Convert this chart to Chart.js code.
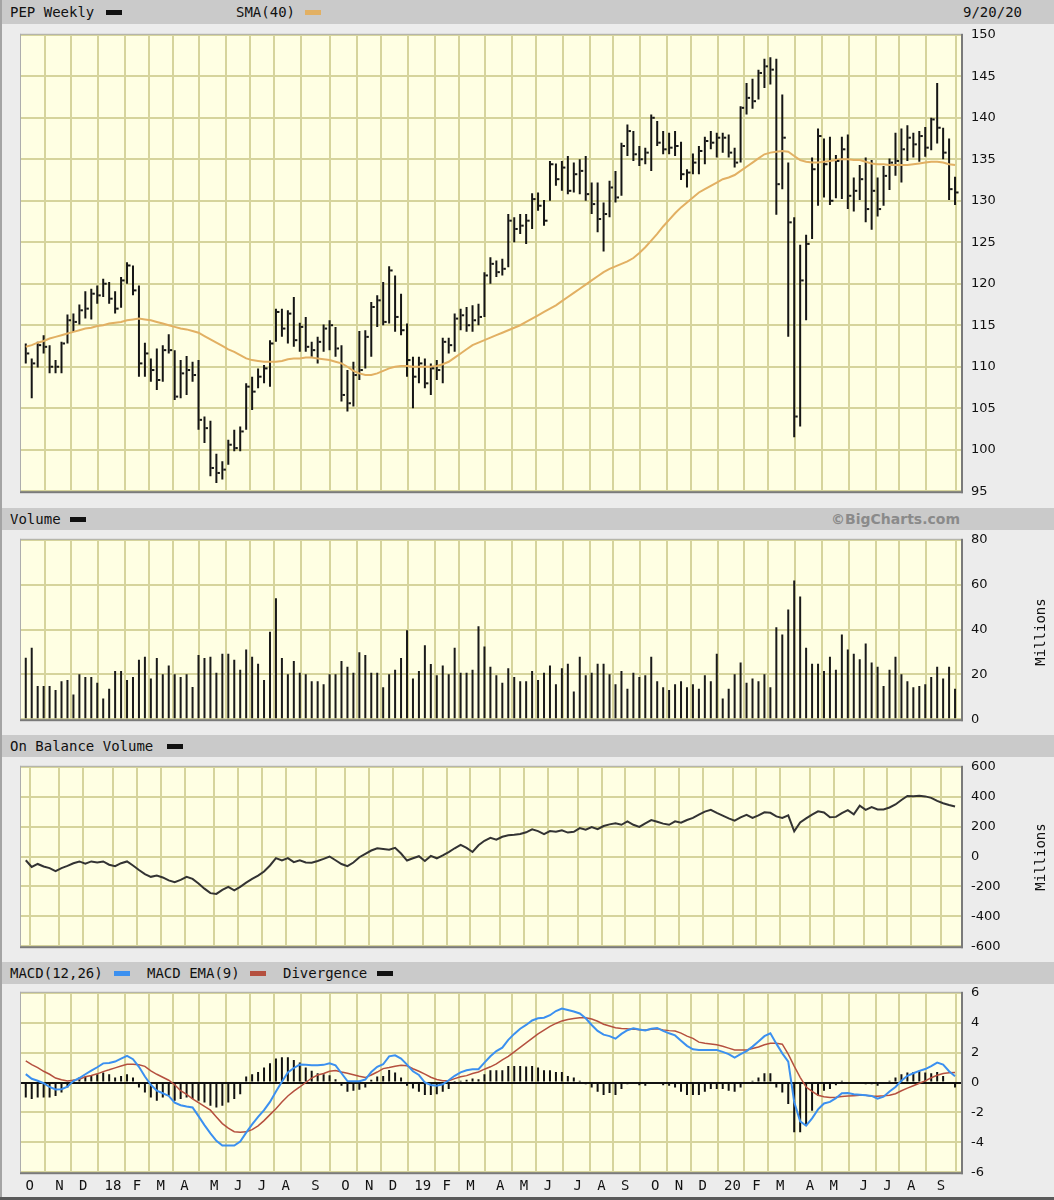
<!DOCTYPE html>
<html>
<head>
<meta charset="utf-8">
<title>PEP Weekly</title>
<script src="https://cdn.jsdelivr.net/npm/chart.js@4.4.1/dist/chart.umd.min.js"></script>
<style>
  body { margin: 0; background: #ececec; }
  #page { position: relative; width: 1054px; height: 1200px; background: #ececec; overflow: hidden;
          font-family: "DejaVu Sans Mono", monospace; font-size: 14px; color: #111; }
  .band { position: absolute; left: 0; width: 1054px; background: #cacaca; }
  .lbl { position: absolute; white-space: nowrap; line-height: 16px; }
  .sw { position: absolute; height: 5px; width: 16px; }
  .panel { position: absolute; left: 0; width: 1054px; }
  .mil { position: absolute; width: 90px; height: 16px; line-height: 16px; text-align: center;
         transform: rotate(-90deg); }
</style>
</head>
<body>
<div id="page">
  <div class="band" style="top:0;height:24px"></div>
  <div class="lbl" style="left:10px;top:4px">PEP Weekly</div>
  <div class="sw" style="left:106px;top:10px;background:#111"></div>
  <div class="lbl" style="left:236px;top:4px">SMA(40)</div>
  <div class="sw" style="left:305px;top:10px;background:#e2b063"></div>
  <div class="lbl" style="right:32px;top:4px">9/20/20</div>

  <div class="band" style="top:508px;height:22px"></div>
  <div class="lbl" style="left:10px;top:511px">Volume</div>
  <div class="sw" style="left:70px;top:517px;background:#111"></div>
  <div class="lbl" style="right:94px;top:511px;font-family:'DejaVu Sans';font-weight:bold;color:#8a8a8a">©BigCharts.com</div>

  <div class="band" style="top:735px;height:22px"></div>
  <div class="lbl" style="left:10px;top:738px">On Balance Volume</div>
  <div class="sw" style="left:167px;top:744px;background:#111"></div>

  <div class="band" style="top:962px;height:22px"></div>
  <div class="lbl" style="left:10px;top:965px">MACD(12,26)</div>
  <div class="sw" style="left:114px;top:971px;background:#3b90f0"></div>
  <div class="lbl" style="left:147px;top:965px">MACD EMA(9)</div>
  <div class="sw" style="left:250px;top:971px;background:#b5503f"></div>
  <div class="lbl" style="left:283px;top:965px">Divergence</div>
  <div class="sw" style="left:377px;top:971px;background:#111"></div>

  <div class="panel" id="pricePanel"><canvas></canvas></div>
  <div class="panel" id="volPanel"><canvas></canvas></div>
  <div class="panel" id="obvPanel"><canvas></canvas></div>
  <div class="panel" id="macdPanel"><canvas></canvas></div>

  <div class="mil" style="left:995px;top:624px">Millions</div>
  <div class="mil" style="left:995px;top:849px">Millions</div>

  <div style="position:absolute;left:0;top:0;width:2px;height:1200px;background:#a4a4a4"></div>
  <div style="position:absolute;left:0;top:1197px;width:1054px;height:3px;background:#5a5a5a"></div>
</div>
<script>
// month gridlines: first weekly bar (0-based) of each month, and its label
const monthLabels = ['O','N','D','18','F','M','A','M','J','J','A','S',
                     'O','N','D','19','F','M','A','M','J','J','A','S',
                     'O','N','D','20','F','M','A','M','J','J','A','S'];
const monthStartWeek = [1,6,10,15,19,23,27,32,36,40,44,49,
                        54,58,62,67,71,75,80,84,88,93,97,101,
                        106,110,114,119,123,127,132,136,141,145,149,154];

// weekly price bars (157 weeks)
const high = [112.8,111.0,113.0,113.8,112.6,110.8,113.0,116.3,116.4,117.5,
  119.1,119.4,119.8,120.6,120.2,119.1,120.8,122.6,122.2,119.8,
  112.9,111.0,112.2,112.6,113.9,112.0,110.8,111.3,110.6,110.8,
  104.0,103.5,99.5,98.6,101.2,102.4,102.8,108.0,108.8,109.8,
  110.2,113.2,117.0,117.0,116.8,118.4,115.3,116.0,113.0,113.6,
  115.1,115.6,114.8,112.6,109.6,110.6,114.3,114.4,117.8,118.6,
  120.2,122.1,121.0,118.8,115.2,111.2,111.2,111.0,110.4,110.8,
  113.5,113.5,116.4,117.0,117.2,117.4,117.6,121.4,123.2,122.8,
  123.0,128.4,128.0,128.4,128.4,130.9,131.0,130.1,134.8,134.5,
  134.8,135.4,134.6,135.0,135.4,132.2,132.2,129.8,132.4,133.6,
  137.0,139.2,138.4,136.6,136.4,140.4,139.6,138.4,138.2,138.4,
  137.1,133.8,135.7,136.6,137.7,138.4,138.2,138.2,138.0,136.4,
  141.4,144.2,144.7,145.8,147.1,147.3,147.1,142.8,134.6,128.0,
  124.7,125.9,135.2,138.7,137.5,137.7,135.5,137.7,138.0,132.8,
  134.3,135.2,134.9,132.8,134.2,135.1,138.2,138.7,139.1,138.2,
  138.4,138.9,140.0,144.2,138.8,137.5,132.9];
const low = [110.4,106.2,109.9,111.6,109.2,109.2,109.2,112.8,114.2,115.1,
  115.8,115.7,117.6,118.4,117.6,116.4,117.1,120.0,118.6,108.8,
  108.8,108.2,107.2,108.2,111.6,106.0,106.2,106.6,108.2,102.4,
  100.8,96.8,96.0,96.4,98.2,99.8,99.8,102.4,104.8,107.4,
  108.0,107.6,113.0,113.6,112.8,112.4,111.8,111.8,111.2,110.4,
  111.8,112.0,111.2,105.8,104.6,105.2,108.4,109.8,111.2,114.8,
  115.0,115.2,114.2,113.8,108.8,105.0,108.0,107.4,106.6,108.4,
  108.0,111.6,111.8,114.4,114.2,114.2,115.0,116.0,120.0,120.8,
  121.0,122.0,125.0,126.0,124.8,126.6,128.8,127.0,130.0,131.8,
  131.2,130.8,131.0,130.8,130.0,128.4,126.2,123.9,128.0,129.8,
  130.6,135.4,134.8,134.2,134.4,133.6,136.6,135.6,135.6,135.4,
  132.5,131.6,133.2,133.2,134.4,136.2,135.2,135.8,135.2,134.0,
  134.6,140.4,141.1,142.2,143.6,144.0,128.3,131.4,113.6,101.5,
  102.8,115.6,125.4,129.4,130.4,129.5,130.3,130.2,129.0,128.7,
  130.1,127.4,126.5,128.1,129.4,131.3,133.0,132.2,134.8,135.2,
  134.7,135.3,136.1,136.9,135.0,130.1,129.5];
const closes = [111.6,110.4,112.6,112.4,110.0,110.0,112.8,115.6,115.4,116.8,
  117.0,118.8,118.6,120.0,118.2,117.0,120.4,122.2,119.2,110.4,
  111.6,109.6,108.4,112.0,112.0,106.4,109.2,109.6,109.0,103.6,
  102.6,97.8,97.2,97.6,100.6,100.2,102.2,107.6,107.0,108.8,
  109.8,112.8,116.6,114.6,116.4,113.2,114.8,112.4,112.0,113.0,
  114.6,115.0,112.2,106.6,105.6,109.0,109.6,113.6,117.2,118.0,
  115.4,121.6,116.0,114.4,110.8,108.8,110.4,108.0,109.8,109.6,
  113.0,112.6,115.8,116.2,115.0,115.6,116.0,121.0,122.4,121.4,
  121.8,127.6,126.6,127.0,127.6,130.2,129.4,127.6,134.4,132.6,
  134.0,131.2,133.2,133.6,130.8,129.6,127.8,128.4,131.6,130.4,
  136.6,138.4,135.6,135.0,135.8,140.0,137.0,136.2,136.4,136.6,
  133.2,133.4,134.6,136.0,137.2,137.0,137.6,137.6,135.8,134.6,
  141.2,142.4,142.0,145.4,146.2,145.8,132.0,137.6,127.4,104.0,
  120.4,124.8,133.8,137.8,134.4,130.0,134.8,136.2,130.6,131.2,
  132.6,129.0,131.2,129.0,133.0,134.6,134.8,136.2,137.6,136.8,
  137.8,136.4,139.8,138.8,135.8,131.4,131.0];
const sma40 = [112.4,112.6,112.9,113.1,113.4,113.6,113.8,114.0,114.2,114.4,
  114.6,114.7,114.9,115.0,115.2,115.3,115.4,115.6,115.7,115.8,
  115.7,115.6,115.4,115.2,115.0,114.8,114.6,114.5,114.3,114.1,
  113.7,113.3,112.9,112.5,112.1,111.8,111.4,111.0,110.8,110.7,
  110.6,110.6,110.6,110.7,110.9,111.0,111.0,111.1,111.1,111.0,
  110.9,110.8,110.6,110.4,110.0,109.5,109.2,109.0,109.0,109.2,
  109.5,109.8,110.0,110.1,110.1,110.0,110.0,110.0,110.0,110.1,
  110.3,110.6,111.1,111.6,112.1,112.6,112.9,113.2,113.5,113.8,
  114.1,114.4,114.7,115.0,115.4,115.8,116.2,116.6,117.0,117.4,
  117.9,118.4,118.9,119.4,119.9,120.4,120.9,121.4,121.8,122.1,
  122.4,122.7,123.1,123.7,124.4,125.2,126.0,126.9,127.7,128.5,
  129.2,129.8,130.4,131.0,131.4,131.8,132.2,132.6,132.8,133.1,
  133.6,134.1,134.6,135.1,135.6,135.8,135.9,136.0,135.9,135.4,
  134.9,134.7,134.6,134.6,134.7,134.8,134.9,135.0,135.0,134.9,
  134.9,134.7,134.5,134.4,134.4,134.3,134.3,134.3,134.3,134.4,
  134.5,134.6,134.7,134.7,134.6,134.4,134.3];

// volume, millions
const volume = [27.4,31.9,14.8,14.8,14.8,13.0,16.9,17.5,11.0,20.1,
  18.8,18.8,16.3,9.2,13.6,21.5,21.5,17.5,18.8,26.5,
  27.9,18.1,27.3,20.1,24.0,20.1,18.8,20.1,14.4,28.6,
  27.3,27.9,20.7,29.2,29.2,26.5,22.0,31.1,27.9,24.7,
  17.5,39.0,53.9,27.3,20.1,25.9,20.7,20.1,16.9,16.9,
  15.6,20.1,20.1,25.9,23.4,20.7,29.8,28.6,20.7,20.7,
  14.2,20.1,22.0,27.3,39.7,18.1,21.5,33.0,24.6,19.6,
  24.0,20.1,31.9,20.7,20.7,22.0,41.5,32.4,23.4,19.6,
  16.3,22.7,18.8,16.9,16.9,21.5,17.5,20.7,24.0,15.6,
  22.7,24.7,12.3,27.9,19.6,20.7,24.7,24.7,20.1,15.6,
  21.5,13.6,20.7,18.8,19.6,27.9,16.9,14.2,13.0,15.6,
  16.9,14.2,15.6,13.6,19.6,16.9,29.2,9.2,13.6,20.1,
  25.3,16.3,18.1,16.9,20.1,14.2,41.0,37.8,48.9,61.8,
  54.7,31.9,24.7,24.7,21.5,27.9,22.0,37.8,31.1,29.2,
  26.7,33.8,25.3,23.4,14.8,22.0,27.9,20.1,16.9,14.2,
  14.8,15.6,18.8,23.4,18.1,23.4,13.6];

// on balance volume, millions
const obv = [-25,-70,-50,-67,-78,-98,-78,-63,-45,-33,
  -48,-33,-40,-33,-55,-65,-45,-33,-60,-90,
  -118,-136,-128,-140,-160,-172,-156,-136,-150,-180,
  -215,-245,-250,-223,-203,-226,-203,-175,-150,-128,
  -100,-60,-11,-26,-11,-38,-25,-40,-42,-30,
  -16,0,-25,-50,-65,-40,-5,18,40,55,
  50,45,58,20,-27,-12,2,-30,4,-12,
  8,30,55,78,58,30,75,105,125,112,
  132,142,145,150,162,182,170,150,170,165,
  175,160,165,190,179,197,183,204,215,222,
  212,235,212,198,222,244,232,220,212,235,
  226,244,258,280,300,312,292,274,255,240,
  262,279,258,275,296,292,268,258,275,168,
  228,255,280,302,295,262,265,290,310,282,
  340,312,330,315,315,328,348,378,405,403,
  407,402,392,372,356,345,335];

// MACD(12,26), its EMA(9) and the divergence
const macd = [0.56,0.25,0.12,-0.05,-0.3,-0.47,-0.45,-0.28,0.1,0.3,
  0.55,0.8,1.02,1.28,1.3,1.4,1.6,1.78,1.56,1.05,
  0.4,-0.15,-0.55,-0.72,-0.9,-1.35,-1.52,-1.6,-1.67,-2.25,
  -2.85,-3.4,-3.9,-4.22,-4.22,-4.22,-3.95,-3.35,-2.8,-2.3,
  -1.85,-1.3,-0.6,0.05,0.67,0.97,1.2,1.18,1.16,1.16,
  1.18,1.29,1.15,0.62,0.1,0.09,0.09,0.2,0.7,1.05,
  1.22,1.75,1.82,1.6,1.2,0.75,0.5,0,-0.17,-0.22,
  -0.12,0.15,0.45,0.68,0.82,0.89,0.89,1.33,1.75,2.1,
  2.33,2.85,3.25,3.6,3.85,4.15,4.3,4.33,4.5,4.78,
  4.95,4.85,4.75,4.62,4.3,3.85,3.45,3.2,3.1,2.93,
  3.25,3.5,3.62,3.55,3.48,3.6,3.65,3.45,3.29,3.15,
  2.8,2.45,2.22,2.18,2.18,2.18,2.18,2.05,1.9,1.67,
  1.9,2.1,2.4,2.75,3.1,3.29,2.6,1.95,1.4,-1.3,
  -2.6,-2.89,-2.4,-1.8,-1.4,-1.3,-1.05,-0.72,-0.7,-0.78,
  -0.82,-0.86,-0.9,-1.08,-0.95,-0.6,-0.3,0.12,0.45,0.62,
  0.78,0.9,1.1,1.33,1.2,0.75,0.42];
const macdEma = [1.44,1.2,1.0,0.75,0.55,0.3,0.18,0.1,0.15,0.22,
  0.38,0.47,0.58,0.73,0.85,0.98,1.1,1.22,1.22,1.18,
  1.08,0.78,0.55,0.35,0.15,-0.15,-0.55,-0.8,-1.1,-1.35,
  -1.6,-1.85,-2.3,-2.75,-3.05,-3.29,-3.33,-3.3,-3.15,-2.9,
  -2.55,-2.15,-1.75,-1.3,-0.9,-0.58,-0.3,0,0.3,0.5,
  0.6,0.75,0.8,0.7,0.62,0.52,0.42,0.33,0.5,0.7,
  0.93,1.0,1.08,1.15,1.12,0.92,0.75,0.56,0.35,0.2,
  0.12,0.12,0.26,0.38,0.46,0.6,0.7,0.89,1.05,1.25,
  1.52,1.75,2.05,2.35,2.65,2.95,3.25,3.5,3.75,3.95,
  4.12,4.22,4.28,4.33,4.33,4.25,4.1,3.9,3.78,3.66,
  3.62,3.59,3.57,3.53,3.51,3.56,3.6,3.52,3.47,3.44,
  3.3,3.1,2.95,2.7,2.62,2.58,2.52,2.42,2.3,2.18,
  2.18,2.18,2.28,2.38,2.52,2.63,2.62,2.56,1.9,1.1,
  0.35,-0.3,-0.6,-0.85,-0.95,-1.0,-0.98,-0.93,-0.9,-0.88,
  -0.86,-0.86,-0.92,-0.92,-0.89,-0.85,-0.75,-0.55,-0.38,-0.22,
  -0.05,0.11,0.32,0.48,0.6,0.65,0.67];
const divergence = [-1.0,-1.1,-1.0,-1.0,-1.0,-0.9,-0.67,-0.33,0.18,0.33,
  0.4,0.44,0.56,0.67,0.56,0.33,0.44,0.56,0.33,-0.33,
  -0.67,-1.0,-1.22,-1.0,-0.89,-1.22,-1.11,-1.0,-1.11,-1.22,
  -1.33,-1.56,-1.67,-1.56,-1.33,-1.11,-0.78,0.4,0.56,0.71,
  1.0,1.29,1.6,1.69,1.69,1.51,1.33,1.0,0.78,0.62,
  0.56,0.49,0.22,-0.22,-0.62,-0.56,-0.49,-0.33,0.18,0.4,
  0.44,0.84,0.67,0.33,-0.22,-0.4,-0.62,-0.84,-0.84,-0.78,
  -0.62,-0.44,0.04,0.11,0.18,0.27,0.22,0.56,0.82,0.82,
  0.82,1.1,1.1,1.1,1.07,1.1,1.0,0.82,0.82,0.71,
  0.71,0.44,0.33,0.11,-0.11,-0.33,-0.62,-0.84,-0.71,-0.84,
  -0.44,-0.11,0,-0.18,-0.22,0,0,-0.18,-0.22,-0.33,
  -0.62,-0.84,-0.84,-0.84,-0.62,-0.44,-0.44,-0.44,-0.56,-0.62,
  -0.33,0,0.11,0.33,0.62,0.62,-0.33,-0.67,-1.44,-3.33,
  -3.33,-2.89,-1.89,-0.89,-0.56,-0.44,-0.18,0.11,0,0,
  0,-0.11,-0.11,-0.22,-0.04,0.11,0.33,0.56,0.67,0.71,
  0.78,0.67,0.62,0.71,0.44,0,-0.33];

const KHAKI = 'rgb(214,212,156)';
const PLOT_BG = '#ffffe3';
Chart.defaults.font.family = 'DejaVu Sans';
Chart.defaults.font.size = 13;
Chart.defaults.color = '#111';

const pts = arr => arr.map((v, i) => ({ x: i, y: v }));

// yellow plot background and the grey frame
const plotFrame = {
  id: 'plotFrame',
  beforeDraw(chart) {
    const a = chart.chartArea, c = chart.ctx;
    c.save();
    c.fillStyle = PLOT_BG;
    c.fillRect(a.left, a.top, a.right - a.left, a.bottom - a.top);
    c.restore();
  },
  beforeDatasetsDraw(chart) {
    const a = chart.chartArea, c = chart.ctx;
    c.save();
    c.fillStyle = '#adadad';
    c.fillRect(a.left - 1, a.top - 1, a.right - a.left + 1, 1);
    c.fillRect(a.left - 1, a.top - 1, 1, a.bottom - a.top + 1);
    c.fillStyle = '#7a7a7a';
    c.fillRect(a.left - 1, a.bottom, a.right - a.left + 3, 2);
    c.fillRect(a.right, a.top - 1, 2, a.bottom - a.top + 3);
    c.restore();
  }
};

// close tick on the right of each price bar
const closeTicks = {
  id: 'closeTicks',
  afterDatasetsDraw(chart) {
    const xs = chart.scales.x, ys = chart.scales.y, c = chart.ctx;
    c.save();
    c.fillStyle = '#151515';
    for (let i = 0; i < closes.length; i++) {
      const x = xs.getPixelForValue(i);
      c.fillRect(x + 1, ys.getPixelForValue(closes[i]) - 1, 2.5, 2);
    }
    c.restore();
  }
};

function xAxis(showLabels) {
  return {
    type: 'linear', min: -0.8, max: 157, offset: false,
    border: { display: false },
    grid: { color: KHAKI, lineWidth: 2, drawTicks: false },
    afterBuildTicks: s => { s.ticks = monthStartWeek.map(w => ({ value: w - 0.35 })); },
    ticks: {
      display: showLabels, autoSkip: false, maxRotation: 0, padding: 6, color: '#111',
      font: { family: 'DejaVu Sans Mono', size: 14 },
      callback: (v, i) => monthLabels[i]
    }
  };
}

function yAxis(min, max, step, zeroLine) {
  return {
    position: 'right', min: min, max: max,
    border: { display: false },
    grid: {
      drawTicks: false, lineWidth: 2,
      color: c => (zeroLine && c.tick && c.tick.value === 0) ? '#111' : KHAKI
    },
    ticks: { stepSize: step, padding: 10, autoSkip: false, color: '#111' },
    afterFit: s => { s.width = 93; }
  };
}

function baseOptions(x, y) {
  return {
    responsive: false, animation: false, events: [],
    layout: { padding: { left: 21, right: 0, top: 10, bottom: 10 } },
    plugins: { legend: { display: false }, tooltip: { enabled: false } },
    scales: { x: x, y: y }
  };
}

// build the chart, then size and place the canvas so the plot area lands where it should
function makePanel(id, plotTop, plotH, makeConfig) {
  const wrap = document.getElementById(id);
  const canvas = wrap.querySelector('canvas');
  canvas.width = 1054; canvas.height = plotH + 80;
  let chart = new Chart(canvas, makeConfig());
  const extra = canvas.height - (chart.chartArea.bottom - chart.chartArea.top);
  chart.destroy();
  canvas.width = 1054; canvas.height = plotH + extra;
  chart = new Chart(canvas, makeConfig());
  wrap.style.top = (plotTop - chart.chartArea.top) + 'px';
  return chart;
}

makePanel('pricePanel', 35, 457, () => ({
  type: 'bar',
  data: {
    datasets: [
      { type: 'line', data: pts(sma40), borderColor: '#e2b063', borderWidth: 2,
        pointRadius: 0, order: 1 },
      { type: 'bar', data: high.map((h, i) => ({ x: i, y: [low[i], h] })),
        backgroundColor: '#151515', barThickness: 2, borderWidth: 0,
        inflateAmount: 0, order: 2 }
    ]
  },
  options: baseOptions(xAxis(false), yAxis(95, 150, 5, false)),
  plugins: [plotFrame, closeTicks]
}));

makePanel('volPanel', 540, 180, () => ({
  type: 'bar',
  data: {
    datasets: [
      { data: pts(volume), backgroundColor: '#1a1a1a', barThickness: 2, borderWidth: 0,
        inflateAmount: 0 }
    ]
  },
  options: baseOptions(xAxis(false), yAxis(0, 80, 20, false)),
  plugins: [plotFrame]
}));

makePanel('obvPanel', 767, 180, () => ({
  type: 'line',
  data: {
    datasets: [
      { data: pts(obv), borderColor: '#333', borderWidth: 2, pointRadius: 0 }
    ]
  },
  options: baseOptions(xAxis(false), yAxis(-600, 600, 200, false)),
  plugins: [plotFrame]
}));

makePanel('macdPanel', 993, 180, () => {
  const o = baseOptions(xAxis(true), yAxis(-6, 6, 2, true));
  o.layout.padding.bottom = 2;
  return {
    type: 'bar',
    data: {
      datasets: [
        { type: 'line', data: pts(macd), borderColor: '#3b90f0', borderWidth: 2,
          pointRadius: 0, order: 1 },
        { type: 'line', data: pts(macdEma), borderColor: '#b5503f', borderWidth: 1.5,
          pointRadius: 0, order: 2 },
        { type: 'bar', data: pts(divergence), backgroundColor: '#111',
          barThickness: 2, borderWidth: 0, inflateAmount: 0, order: 3 }
      ]
    },
    options: o,
    plugins: [plotFrame]
  };
});
</script>
</body>
</html>
